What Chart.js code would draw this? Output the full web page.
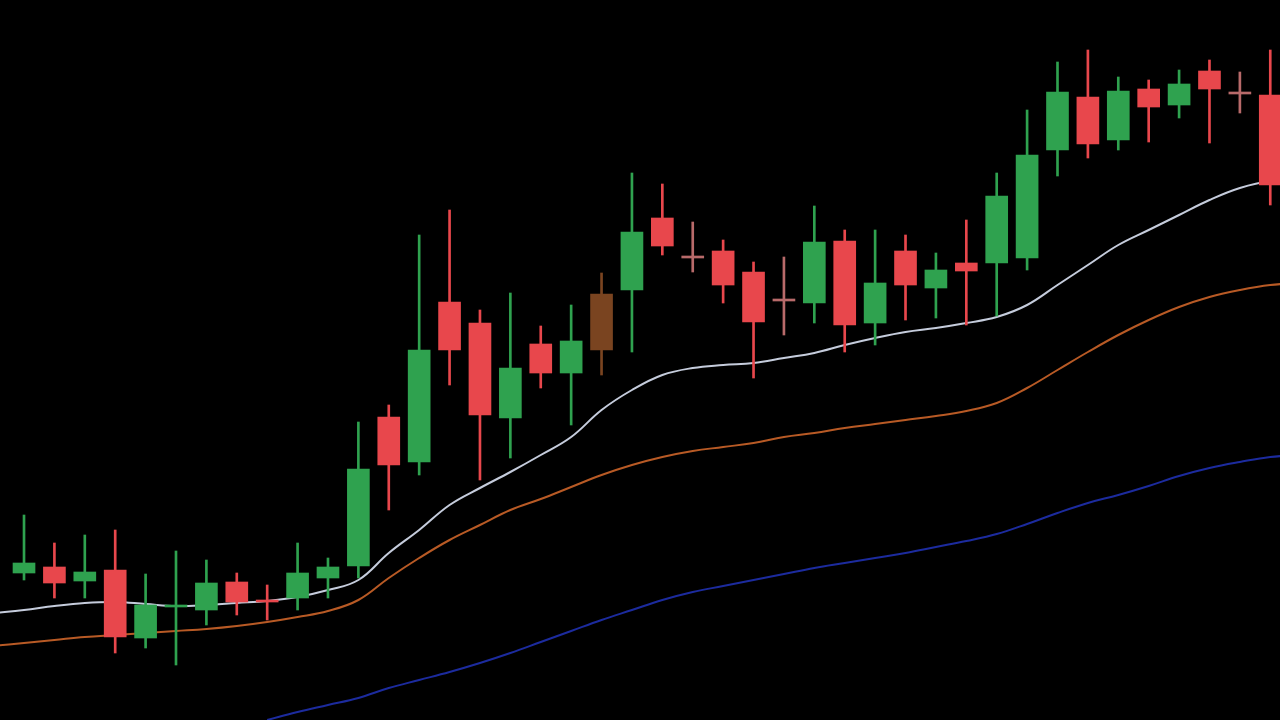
<!DOCTYPE html>
<html><head><meta charset="utf-8">
<script src="https://cdn.jsdelivr.net/npm/chart.js@4"></script>
<style>html,body{margin:0;padding:0;background:#000;overflow:hidden}#w{width:1280px;height:720px}</style>
</head><body><div id="w"><canvas id="c"></canvas></div>
<script>
const openP  = [147,153,139,150,82,113,110,138,120,122,142,154,303,258,418,397,302,376,347,426,430,502,464,469,448,421,417,479,397,469,432,457,457,462,570,623,580,631,615,649,628,625];
const highP  = [205,177,185,190,146,169,160,147,135,177,162,298,315,485,510,410,427,394,415,447,547,536,498,480,458,463,514,490,490,485,467,500,547,610,658,670,643,640,650,660,648,670];
const lowP   = [140,122,122,67,72,55,95,105,100,110,122,142,210,245,335,240,262,332,295,345,368,465,448,417,342,385,397,368,375,400,402,395,404,450,544,562,570,578,602,577,607,515];
const closeP = [157,137,148,83,115,115,137,118,118,147,153,251,255,370,370,305,352,347,379,370,488,474,462,435,398,419,478,395,437,435,450,449,524,565,628,576,629,613,636,631,626,535];
const candleColor = ['g','r','g','r','g','g','g','r','r','g','g','g','r','g','r','r','g','r','g','b','g','r','d','r','r','d','g','r','g','r','g','r','g','g','g','r','g','r','g','r','d','r'];
const maIdx = Array.from({length:44},(_,k)=>k-1);
const maFast = [107,110,114,117,118,116,114,115,117,119,123,130,140,167,190,215,232,248,265,283,310,330,345,352,355,357,362,367,375,382,388,392,397,403,415,435,455,475,490,505,520,532,539,540];
const maMid  = [74,77,80,83,85,87,89,91,94,98,103,109,120,142,162,180,195,210,221,233,245,255,263,269,273,277,283,287,292,296,300,304,309,317,332,350,368,385,400,413,423,430,435,437];
const maSlowIdx = [8,9,10,11,12,13,14,15,16,17,18,19,20,21,22,23,24,25,26,27,28,29,30,31,32,33,34,35,36,37,38,39,40,41,42];
const maSlow = [0,8,15,22,32,40,48,57,67,78,89,100,110,120,128,134,140,146,152,157,162,167,173,179,186,196,207,217,225,234,244,252,258,263,265];

const COL={g:'#2fa24f',r:'#e8474c',b:'#7a4420',d:'#b86a6a'};
const cols=candleColor.map(c=>COL[c]);
const wicks=openP.map((o,i)=>({x:i,y:[lowP[i],highP[i]]}));
const bodies=openP.map((o,i)=>({x:i,y:[Math.min(o,closeP[i]),Math.max(o,closeP[i])]}));
const line=(xs,ys,color)=>({type:'line',data:xs.map((x,i)=>({x,y:ys[i]})),borderColor:color,borderWidth:2,pointRadius:0,tension:0.4,order:2});
new Chart(document.getElementById('c'),{
  type:'bar',
  data:{datasets:[
    {data:wicks,backgroundColor:cols,barThickness:2,grouped:false,order:1},
    {data:bodies,backgroundColor:cols,barThickness:22,grouped:false,minBarLength:2,order:0},
    line(maIdx,maFast,'#c5ccdc'),
    line(maIdx,maMid,'#b85a25'),
    line(maSlowIdx,maSlow,'#1c2b9e')
  ]},
  options:{responsive:true,maintainAspectRatio:false,animation:false,
    layout:{padding:0},
    plugins:{legend:{display:false},tooltip:{enabled:false}},
    scales:{x:{type:'linear',min:-0.79,max:41.32,offset:false,display:false},
            y:{min:0,max:720,display:false}}}
});
</script></body></html>
